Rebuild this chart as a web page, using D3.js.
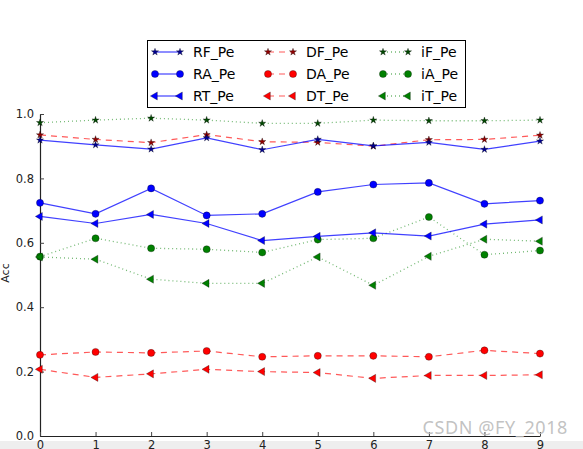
<!DOCTYPE html>
<html>
<head>
<meta charset="utf-8">
<script src="https://d3js.org/d3.v7.min.js"></script>
<style>
  body { margin: 0; background: #fff; }
  svg { display: block; }
</style>
</head>
<body>
<div id="chart"></div>
<script>
// values
var xs = [0, 1, 2, 3, 4, 5, 6, 7, 8, 9];
var yTicks = [0.0, 0.2, 0.4, 0.6, 0.8, 1.0];

var RF_Pe = [0.919, 0.904, 0.891, 0.926, 0.889, 0.921, 0.901, 0.912, 0.890, 0.916];
var RA_Pe = [0.724, 0.690, 0.769, 0.685, 0.690, 0.758, 0.781, 0.786, 0.721, 0.731];
var RT_Pe = [0.682, 0.660, 0.688, 0.660, 0.607, 0.620, 0.631, 0.621, 0.658, 0.671];
var DF_Pe = [0.935, 0.921, 0.911, 0.936, 0.914, 0.912, 0.900, 0.920, 0.921, 0.934];
var DA_Pe = [0.252, 0.261, 0.258, 0.264, 0.246, 0.249, 0.249, 0.246, 0.266, 0.256];
var DT_Pe = [0.207, 0.182, 0.193, 0.207, 0.200, 0.197, 0.179, 0.188, 0.188, 0.190];
var iF_Pe = [0.973, 0.981, 0.987, 0.981, 0.971, 0.971, 0.981, 0.979, 0.979, 0.981];
var iA_Pe = [0.557, 0.614, 0.583, 0.580, 0.570, 0.610, 0.614, 0.680, 0.563, 0.576];
var iT_Pe = [0.556, 0.549, 0.487, 0.474, 0.474, 0.556, 0.468, 0.558, 0.611, 0.605];

var seriesNames = ["RF_Pe", "RA_Pe", "RT_Pe", "DF_Pe", "DA_Pe", "DT_Pe", "iF_Pe", "iA_Pe", "iT_Pe"];
var seriesValues = [RF_Pe, RA_Pe, RT_Pe, DF_Pe, DA_Pe, DT_Pe, iF_Pe, iA_Pe, iT_Pe];

var W = 583, H = 449;
var plotLeft = 40, plotRight = 540, plotTop = 114, plotBottom = 436;

var svg = d3.select("#chart")
    .append("svg")
    .attr("width", W)
    .attr("height", H)
    .attr("font-family", "DejaVu Sans");

var x = d3.scaleLinear().domain([0, 9]).range([plotLeft, plotRight]);
var y = d3.scaleLinear().domain([0, 1]).range([plotBottom, plotTop]);

// styles per family (R = blue solid, D = red dashed, i = green dotted)
var family_style = function(name) {
    if (name[0] == "R") {
        return { color: "#0000ff", dash: null, width: 1.2, opacity: 0.75 };
    } else if (name[0] == "D") {
        return { color: "#ff0000", dash: "6,5", width: 1.2, opacity: 0.65 };
    }
    return { color: "#008000", dash: "1,3", width: 1.3, opacity: 0.55 };
}

var marker_path = function(name) {
    var kind = name[1];
    if (kind == "F") {
        return d3.symbol().type(d3.symbolStar).size(16)();
    } else if (kind == "A") {
        return d3.symbol().type(d3.symbolCircle).size(40)();
    }
    return d3.symbol().type(d3.symbolTriangle).size(28)();
}

var marker_rot = function(name) {
    return name[1] == "T" ? " rotate(-90)" : "";
}

var marker_fill = function(name) {
    var st = family_style(name);
    if (name[1] == "F") {
        return d3.color(st.color).darker(1.6);
    }
    return st.color;
}

// gray strip at the bottom of the picture
svg.append("rect")
    .attr("x", 0).attr("y", 441)
    .attr("width", W).attr("height", H - 441)
    .attr("fill", "#eeeeee");

// axes
var yAxis = d3.axisLeft(y)
    .tickValues(yTicks)
    .tickFormat(d3.format(".1f"))
    .tickSizeInner(-4)
    .tickSizeOuter(0)
    .tickPadding(6);

var xAxis = d3.axisBottom(x)
    .tickValues(xs)
    .tickFormat(d3.format("d"))
    .tickSizeInner(-4)
    .tickSizeOuter(0)
    .tickPadding(5);

var gy = svg.append("g")
    .attr("transform", "translate(" + plotLeft + ",0)")
    .call(yAxis);
var gx = svg.append("g")
    .attr("transform", "translate(0," + plotBottom + ")")
    .call(xAxis);

[gx, gy].forEach(function(g) {
    g.selectAll("text").attr("font-size", 11.5).attr("font-family", "DejaVu Sans").attr("fill", "#222");
    g.select(".domain").attr("stroke", "#222").attr("stroke-width", 1.2);
    g.selectAll(".tick line").attr("stroke", "#444");
});

svg.append("text")
    .attr("transform", "translate(9,273) rotate(-90)")
    .attr("text-anchor", "middle")
    .attr("font-size", 11)
    .attr("fill", "#222")
    .text("Acc");

// lines and markers
var line = d3.line()
    .x(function(d, i) { return x(xs[i]); })
    .y(function(d) { return y(d); });

var draw_order = [6, 7, 8, 3, 4, 5, 0, 1, 2];
draw_order.forEach(function(k) {
    var name = seriesNames[k];
    var vals = seriesValues[k];
    var st = family_style(name);

    svg.append("path")
        .datum(vals)
        .attr("d", line)
        .attr("fill", "none")
        .attr("stroke", st.color)
        .attr("stroke-width", st.width)
        .attr("stroke-opacity", st.opacity)
        .attr("stroke-dasharray", st.dash);

    svg.selectAll(".m" + name)
        .data(vals)
        .enter()
        .append("path")
        .attr("class", "m" + name)
        .attr("d", marker_path(name))
        .attr("transform", function(d, i) {
            return "translate(" + x(xs[i]) + "," + y(d) + ")" + marker_rot(name);
        })
        .attr("fill", marker_fill(name))
        .attr("stroke", "#000")
        .attr("stroke-width", 0.3);
});

// legend
var legend = svg.append("g");
legend.append("rect")
    .attr("x", 147.5).attr("y", 40.5)
    .attr("width", 318).attr("height", 67)
    .attr("fill", "#fff")
    .attr("stroke", "#000")
    .attr("stroke-width", 1);

var colX = [155, 268, 383];
var rowY = [52, 74, 96];

seriesNames.forEach(function(name, k) {
    var col = Math.floor(k / 3), row = k % 3;
    var st = family_style(name);
    var x0 = colX[col], x1 = colX[col] + 25, yy = rowY[row];

    legend.append("line")
        .attr("x1", x0).attr("x2", x1)
        .attr("y1", yy).attr("y2", yy)
        .attr("stroke", st.color)
        .attr("stroke-width", st.width)
        .attr("stroke-opacity", st.opacity)
        .attr("stroke-dasharray", st.dash);

    [x0, x1].forEach(function(mx) {
        legend.append("path")
            .attr("d", marker_path(name))
            .attr("transform", "translate(" + mx + "," + yy + ")" + marker_rot(name))
            .attr("fill", marker_fill(name))
            .attr("stroke", "#000")
            .attr("stroke-width", 0.3);
    });

    legend.append("text")
        .attr("x", x1 + 13)
        .attr("y", yy + 5)
        .attr("font-size", 14)
        .attr("fill", "#000")
        .text(name);
});

// watermark
svg.append("text")
    .attr("x", 568)
    .attr("y", 434)
    .attr("text-anchor", "end")
    .attr("font-family", "Noto Sans")
    .attr("font-size", 18)
    .attr("letter-spacing", 0.6)
    .attr("fill", "#bbbbbb")
    .attr("fill-opacity", 0.9)
    .text("CSDN @FY_2018");
</script>
</body>
</html>
